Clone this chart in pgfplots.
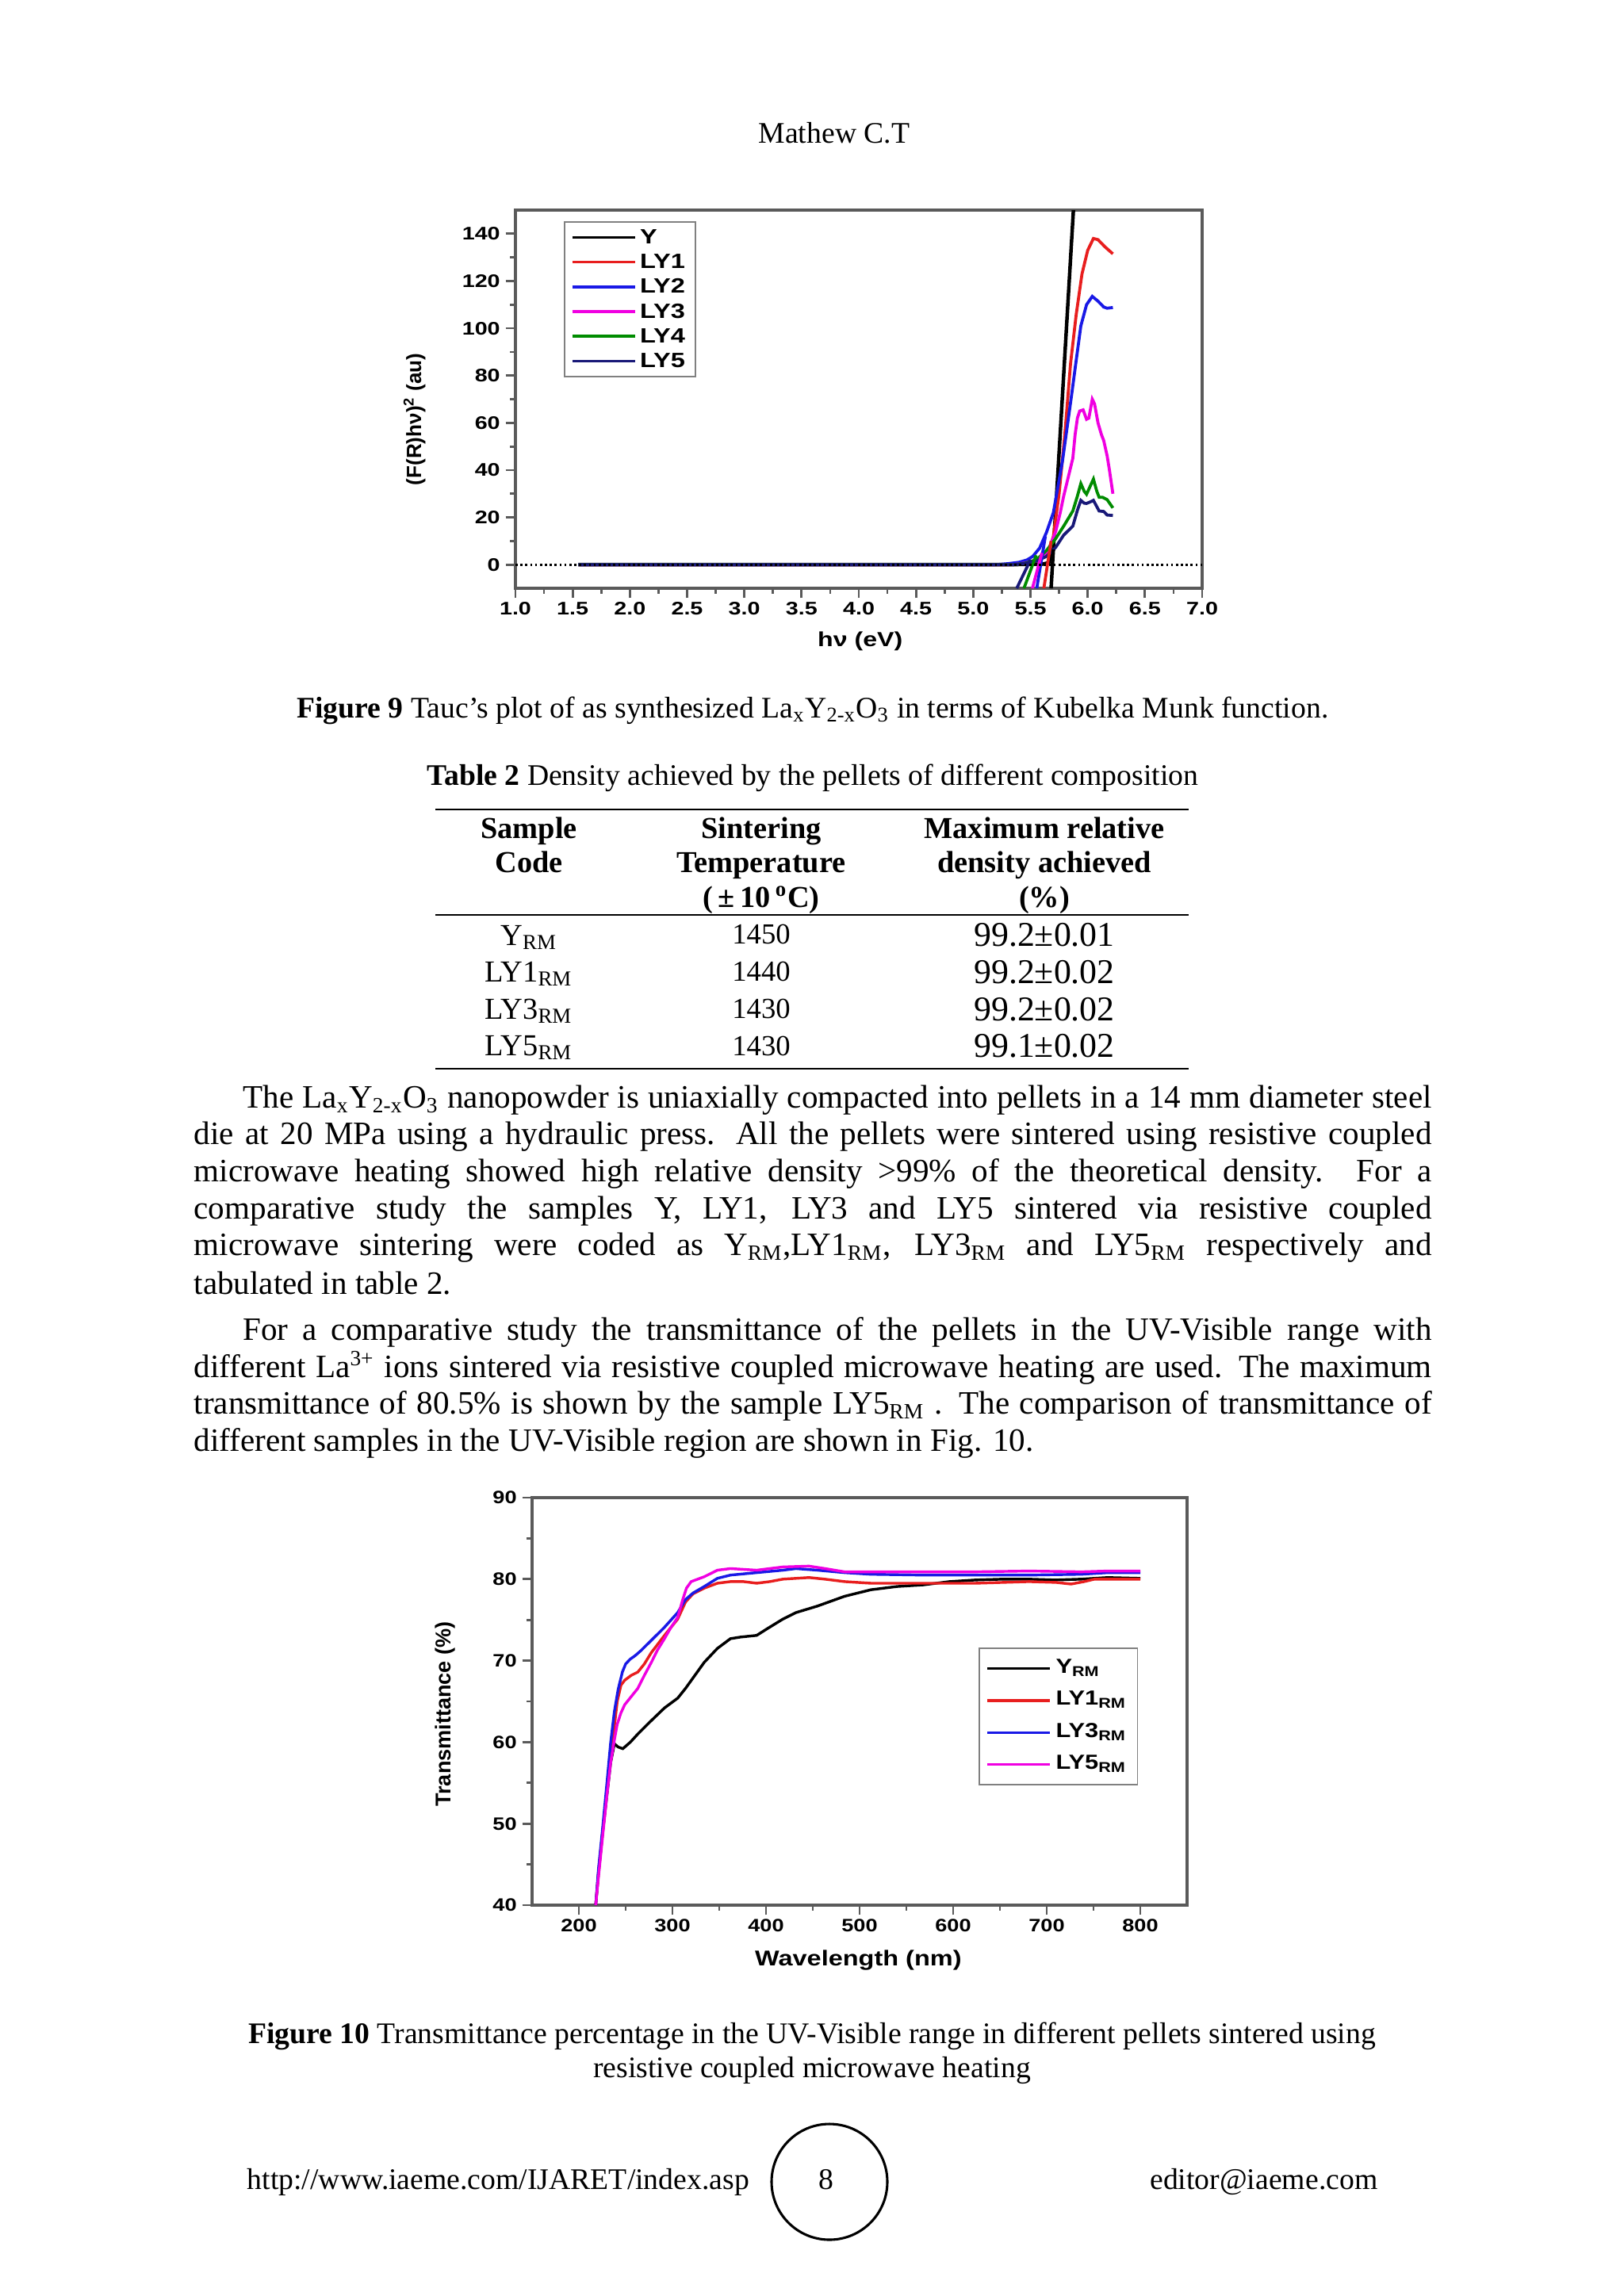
\documentclass[border=0pt]{standalone}
\usepackage{fontspec}
\setmainfont{Liberation Serif}
\newfontfamily\plotA[FakeStretch=1.25]{Liberation Sans}
\newfontfamily\plotB[FakeStretch=1.2]{Liberation Sans}
\newfontfamily\plotN{Liberation Sans}
\usepackage{pgfplots}
\pgfplotsset{compat=1.18}

\def\pxu{0.29175pt}
\def\tw{455.42pt}

\definecolor{cred}{RGB}{232,30,30}
\definecolor{cblue}{RGB}{25,25,230}
\definecolor{cmag}{RGB}{240,0,225}
\definecolor{cgreen}{RGB}{0,140,0}
\definecolor{cnavy}{RGB}{25,25,120}
\definecolor{frame}{RGB}{90,90,90}

\pgfplotsset{
  origin/.style={
    scale only axis,
    xtick pos=bottom, ytick pos=left, tick align=outside,
    major tick length=3.6pt, minor tick length=2pt,
    every tick/.style={frame, line width=0.8pt},
    axis line style={frame, line width=0.9pt},
    /pgf/number format/assume math mode=true,
    legend cell align=left,
    x tick label style={yshift=2pt},
    y tick label style={xshift=1.5pt},
  },
}

\begin{document}
\begin{tikzpicture}
\fill[white] (0,0) rectangle (2048*\pxu,-2896*\pxu);

% ---------- Figure 9: Tauc plot ----------
\begin{axis}[origin,
  at={(650*\pxu,-742*\pxu)}, anchor=south west,
  width=252.66pt, height=139.16pt,
  xmin=1, xmax=7, ymin=-10, ymax=150,
  xtick={1,1.5,...,7}, ytick={0,20,...,140},
  minor x tick num=1, minor y tick num=1,
  xticklabel style={/pgf/number format/fixed, /pgf/number format/fixed zerofill, /pgf/number format/precision=1},
  tick label style={font=\plotA\bfseries\fontsize{6.7}{7}\selectfont},
  xlabel={hν (eV)}, ylabel={(F(R)hν)\textsuperscript{2} (au)},
  xlabel style={font=\plotA\bfseries\fontsize{7.5}{8}\selectfont, at={(axis description cs:0.502,-0.14)}, anchor=center},
  ylabel style={font=\plotN\bfseries\fontsize{7.6}{8}\selectfont, at={(axis description cs:-0.147,0.447)}, anchor=center},
  legend style={at={(axis description cs:0.0704,0.971)}, anchor=north west,
    draw=gray, line width=0.5pt, fill=white,
    font=\plotA\bfseries\fontsize{7.6}{8}\selectfont,
    inner xsep=2.4pt, inner ysep=1.2pt, row sep=0pt,
    nodes={inner sep=1.4pt, text height=5.5pt, text depth=0.8pt}},
  legend image code/.code={\draw[#1, line width=1pt] (0pt,0pt) -- (23pt,0pt);},
]
\addplot[black, line width=1.3pt] coordinates {(1.55,0) (3.0,0) (4.5,0) (5.3,0) (5.6,0.2) (5.66,0.8) (5.70,6.4) (5.80,88.4) (5.88,154)};
\addlegendentry{Y}
\addplot[cred, line width=1.1pt] coordinates {(1.55,0) (3.0,0) (4.5,0) (5.3,0) (5.45,0.5) (5.55,1.5) (5.62,3.5) (5.66,5.5) (5.70,12) (5.75,30) (5.80,55) (5.85,85) (5.90,106) (5.95,123) (6.00,133) (6.05,138) (6.09,137.5) (6.15,134.5) (6.22,131.5)};
\addlegendentry{LY1}
\addplot[cblue, line width=1.1pt] coordinates {(1.55,0) (3.0,0) (4.5,0) (5.2,0) (5.30,0.4) (5.40,1) (5.47,2) (5.52,3.5) (5.58,7) (5.64,13.7) (5.70,22) (5.74,33) (5.78,44) (5.82,58) (5.86,72) (5.89,83) (5.94,101) (5.99,110) (6.04,113.5) (6.09,111.5) (6.14,109) (6.17,108.5) (6.22,108.8)};
\addlegendentry{LY2}
\addplot[cmag, line width=1.1pt] coordinates {(1.55,0) (3.0,0) (4.5,0) (5.35,0) (5.45,0.7) (5.55,2) (5.64,4.8) (5.68,9) (5.72,14) (5.76,22) (5.79,29) (5.83,37) (5.87,45) (5.89,55) (5.91,62) (5.93,65) (5.96,65.5) (5.99,61.5) (6.01,62) (6.04,70) (6.06,68) (6.09,60) (6.12,55) (6.14,52.5) (6.17,46) (6.19,40) (6.22,30)};
\addlegendentry{LY3}
\addplot[cgreen, line width=1.1pt] coordinates {(1.55,0) (3.0,0) (4.5,0) (5.35,0) (5.45,0.6) (5.55,2) (5.64,6) (5.72,11) (5.79,16.3) (5.87,22.7) (5.91,29) (5.94,34.3) (5.97,31) (5.99,29.8) (6.02,33) (6.05,36.2) (6.08,31) (6.10,28.5) (6.13,28.5) (6.17,27.5) (6.22,24)};
\addlegendentry{LY4}
\addplot[cnavy, line width=1.1pt] coordinates {(1.55,0) (3.0,0) (4.5,0) (5.35,0) (5.45,0.5) (5.55,1.5) (5.64,3.5) (5.72,7.3) (5.79,12.5) (5.87,16.3) (5.91,23) (5.94,27.2) (5.97,26) (5.99,25.9) (6.02,26.5) (6.05,27.2) (6.08,24.5) (6.10,22.7) (6.14,22.5) (6.17,21) (6.22,20.8)};
\addlegendentry{LY5}
% tangent extrapolations and zero line
\addplot[black, line width=1.3pt, forget plot] coordinates {(5.68,-10) (5.70,6.4)};
\addplot[cred, line width=1.1pt, forget plot] coordinates {(5.617,-10) (5.68,10)};
\addplot[cblue, line width=1.1pt, forget plot] coordinates {(5.555,-10) (5.63,12)};
\addplot[cmag, line width=1.1pt, forget plot] coordinates {(5.517,-10) (5.60,5)};
\addplot[cgreen, line width=1.1pt, forget plot] coordinates {(5.443,-10) (5.55,4)};
\addplot[cnavy, line width=1.1pt, forget plot] coordinates {(5.38,-10) (5.50,2)};
\addplot[black, densely dotted, line width=0.8pt, forget plot] coordinates {(1,0) (7,0)};
\end{axis}

% ---------- Figure 10: transmittance ----------
\begin{axis}[origin,
  at={(671*\pxu,-2403*\pxu)}, anchor=south west,
  width=240.99pt, height=149.96pt,
  xmin=150, xmax=850, ymin=40, ymax=90,
  xtick={200,300,...,800}, ytick={40,50,...,90},
  minor x tick num=1, minor y tick num=1,
  tick label style={font=\plotB\bfseries\fontsize{6.6}{7}\selectfont},
  xlabel={Wavelength (nm)}, ylabel={Transmittance (\%)},
  xlabel style={font=\plotB\bfseries\fontsize{7.9}{8}\selectfont, at={(axis description cs:0.498,-0.136)}, anchor=center},
  ylabel style={font=\plotN\bfseries\fontsize{7.9}{8}\selectfont, at={(axis description cs:-0.133,0.469)}, anchor=center},
  legend style={at={(axis description cs:0.682,0.632)}, anchor=north west,
    draw=gray, line width=0.5pt, fill=white,
    font=\plotB\bfseries\fontsize{7.5}{8}\selectfont,
    inner xsep=2.5pt, inner ysep=1.5pt, row sep=0pt,
    nodes={inner sep=1.6pt, text height=6pt, text depth=2.6pt}},
  legend image code/.code={\draw[#1, line width=1pt] (0pt,0pt) -- (23pt,0pt);},
]
\addplot[black, line width=1pt] coordinates {(218,40) (221,44) (225,48.5) (230,53.5) (234,57.5) (238,59.8) (242,59.4) (247,59.2) (255,60) (263,61) (277,62.6) (291.5,64.2) (305.6,65.4) (314,66.6) (324,68.2) (334,69.8) (348,71.5) (362,72.7) (373,72.9) (390,73.1) (401,73.9) (418,75.1) (432,75.9) (455,76.7) (484,77.9) (512,78.7) (540,79.1) (568,79.3) (596,79.7) (624,79.9) (653,80.0) (681,80.0) (709,79.9) (737,80.0) (765,80.2) (800,80.1)};
\addlegendentry{Y\textsubscript{RM}}
\addplot[cred, line width=1pt] coordinates {(218,40) (221,44) (225,48.5) (230,54) (234,58.5) (238,62) (241,65) (245,67) (249,67.6) (256,68.2) (263,68.6) (270,69.6) (277.5,71) (291.5,73.1) (305.6,75.1) (314,77.2) (322,78.2) (334,78.9) (348,79.5) (362,79.7) (376,79.7) (390,79.5) (404,79.7) (418,80.0) (446,80.2) (463,80.0) (484,79.7) (512,79.5) (568,79.5) (624,79.5) (681,79.7) (710,79.6) (726,79.4) (740,79.7) (751,80.0) (800,80.0)};
\addlegendentry{LY1\textsubscript{RM}}
\addplot[cblue, line width=1pt] coordinates {(218,40) (221,44.5) (225,49) (230,55) (234,60) (238,63.8) (242,66.5) (246.5,68.6) (250,69.6) (255,70.2) (260,70.6) (266,71.2) (277.5,72.5) (291.5,74.1) (305.6,75.9) (314,77.5) (322,78.3) (334,79.1) (348,80.1) (362,80.5) (390,80.8) (418,81.1) (432,81.3) (455,81.1) (484,80.8) (512,80.6) (568,80.5) (624,80.5) (681,80.5) (737,80.6) (765,80.8) (800,80.8)};
\addlegendentry{LY3\textsubscript{RM}}
\addplot[cmag, line width=1pt] coordinates {(218,40) (221,43.5) (225,48) (230,53.5) (234,57.5) (238,60.3) (241,62.2) (245,63.6) (249,64.6) (256,65.6) (263,66.6) (270,68.2) (277.5,69.8) (284,71.3) (291.5,72.7) (298,74) (305.6,75.3) (311,77.5) (315,78.9) (320,79.7) (334,80.3) (348,81.1) (362,81.3) (390,81.1) (418,81.5) (446,81.6) (463,81.3) (484,80.9) (512,80.9) (568,80.9) (624,80.9) (681,81.0) (737,80.9) (765,81.0) (800,81.0)};
\addlegendentry{LY5\textsubscript{RM}}
\end{axis}

% ---------- page text ----------
\begin{scope}[x=\pxu, y=-\pxu, every node/.style={inner sep=0pt, font=\fontsize{11}{13.6}\selectfont}]
\node[anchor=base] at (1052,180) {Mathew C.T};

\node[anchor=base] at (1025,905) {\textbf{Figure 9} Tauc’s plot of as synthesized La\textsubscript{x}Y\textsubscript{2-x}O\textsubscript{3} in terms of Kubelka Munk function.};

\node[anchor=base] at (1025,990) {\textbf{Table 2} Density achieved by the pellets of different composition};
\draw[line width=0.8pt] (549,1021) -- (1499,1021);
\draw[line width=0.8pt] (549,1154) -- (1499,1154);
\draw[line width=0.8pt] (549,1348) -- (1499,1348);
\begin{scope}[every node/.style={inner sep=0pt, font=\fontsize{11.2}{13.6}\selectfont\bfseries, anchor=base}]
\node at (667,1057) {Sample};
\node at (667,1100) {Code};
\node at (960,1057) {Sintering};
\node at (960,1100) {Temperature};
\node at (960,1144) {(\,±\,10\,\textsuperscript{o}C)};
\node at (1317,1057) {Maximum relative};
\node at (1317,1100) {density achieved};
\node at (1317,1144) {(\%)};
\end{scope}
\begin{scope}[every node/.style={inner sep=0pt, anchor=base}]
\node[font=\fontsize{11.2}{13.6}\selectfont] at (667,1192) {Y\textsubscript{RM}};
\node[font=\fontsize{11.2}{13.6}\selectfont] at (667,1238) {LY1\textsubscript{RM}};
\node[font=\fontsize{11.2}{13.6}\selectfont] at (667,1285) {LY3\textsubscript{RM}};
\node[font=\fontsize{11.2}{13.6}\selectfont] at (667,1331) {LY5\textsubscript{RM}};
\node[font=\fontsize{10.7}{12}\selectfont] at (960,1190) {1450};
\node[font=\fontsize{10.7}{12}\selectfont] at (960,1237) {1440};
\node[font=\fontsize{10.7}{12}\selectfont] at (960,1284) {1430};
\node[font=\fontsize{10.7}{12}\selectfont] at (960,1331) {1430};
\node[font=\fontsize{12.8}{14}\selectfont] at (1317,1193) {99.2±0.01};
\node[font=\fontsize{12.8}{14}\selectfont] at (1317,1240) {99.2±0.02};
\node[font=\fontsize{12.8}{14}\selectfont] at (1317,1287) {99.2±0.02};
\node[font=\fontsize{12.8}{14}\selectfont] at (1317,1333) {99.1±0.02};
\end{scope}

\begin{scope}[every node/.style={inner sep=0pt, anchor=base west, font=\fontsize{12}{13.8}\selectfont}]
\node at (244,1397) {\makebox[\tw][s]{\hspace*{18pt}The La\textsubscript{x}Y\textsubscript{2-x}O\textsubscript{3} nanopowder is uniaxially compacted into pellets in a 14 mm diameter steel}};
\node at (244,1443) {\makebox[\tw][s]{die at 20 MPa using a hydraulic press. All the pellets were sintered using resistive coupled}};
\node at (244,1490) {\makebox[\tw][s]{microwave heating showed high relative density >99\% of the theoretical density. For a}};
\node at (244,1537) {\makebox[\tw][s]{comparative study the samples Y, LY1, LY3 and LY5 sintered via resistive coupled}};
\node at (244,1583) {\makebox[\tw][s]{microwave sintering were coded as Y\textsubscript{RM},LY1\textsubscript{RM}, LY3\textsubscript{RM} and LY5\textsubscript{RM} respectively and}};
\node at (244,1632) {tabulated in table 2.};
\node at (244,1690) {\makebox[\tw][s]{\hspace*{18pt}For a comparative study the transmittance of the pellets in the UV-Visible range with}};
\node at (244,1737) {\makebox[\tw][s]{different La\textsuperscript{3+} ions sintered via resistive coupled microwave heating are used. The maximum}};
\node at (244,1783) {\makebox[\tw][s]{transmittance of 80.5\% is shown by the sample LY5\textsubscript{RM} . The comparison of transmittance of}};
\node at (244,1830) {different samples in the UV-Visible region are shown in Fig. 10.};
\end{scope}

\node[anchor=base] at (1024,2577) {\textbf{Figure 10} Transmittance percentage in the UV-Visible range in different pellets sintered using};
\node[anchor=base] at (1024,2620) {resistive coupled microwave heating};

\node[anchor=base west] at (311,2761) {http://www.iaeme.com/IJARET/index.asp};
\draw[line width=0.9pt] (1046,2752) circle (73);
\node[anchor=base] at (1042,2761) {8};
\node[anchor=base east] at (1738,2761) {editor@iaeme.com};
\end{scope}
\end{tikzpicture}
\end{document}
